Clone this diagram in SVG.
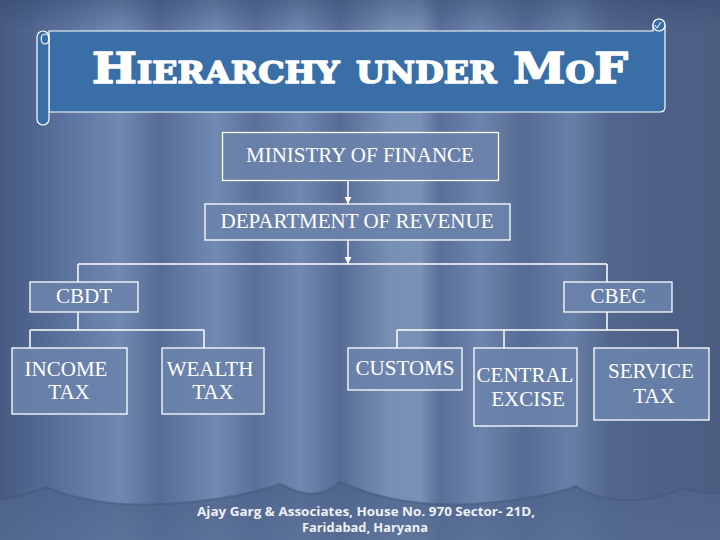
<svg xmlns="http://www.w3.org/2000/svg" width="720" height="540" viewBox="0 0 720 540">
  <defs>
    <linearGradient id="curtain" x1="0" y1="0" x2="720" y2="0" gradientUnits="userSpaceOnUse">
      <stop offset="0" stop-color="#475b82"/>
      <stop offset="0.042" stop-color="#4f658e"/>
      <stop offset="0.097" stop-color="#5d74a0"/>
      <stop offset="0.167" stop-color="#7189b1"/>
      <stop offset="0.222" stop-color="#566c96"/>
      <stop offset="0.299" stop-color="#728ab2"/>
      <stop offset="0.354" stop-color="#5a709a"/>
      <stop offset="0.417" stop-color="#7088b0"/>
      <stop offset="0.472" stop-color="#576c95"/>
      <stop offset="0.542" stop-color="#7890b5"/>
      <stop offset="0.583" stop-color="#7a91b6"/>
      <stop offset="0.611" stop-color="#5a6f98"/>
      <stop offset="0.667" stop-color="#6c84ab"/>
      <stop offset="0.729" stop-color="#566b93"/>
      <stop offset="0.792" stop-color="#6880a7"/>
      <stop offset="0.847" stop-color="#52668d"/>
      <stop offset="0.917" stop-color="#4d6086"/>
      <stop offset="1" stop-color="#4c5e82"/>
    </linearGradient>
    <linearGradient id="topshade" x1="0" y1="0" x2="0" y2="1">
      <stop offset="0" stop-color="#32466c" stop-opacity="0.45"/>
      <stop offset="1" stop-color="#32466c" stop-opacity="0"/>
    </linearGradient>
    <linearGradient id="hem" x1="0" y1="0" x2="0" y2="1">
      <stop offset="0" stop-color="#4e638a" stop-opacity="0.85"/>
      <stop offset="1" stop-color="#566b92" stop-opacity="0.75"/>
    </linearGradient>
    <marker id="arrow" markerWidth="7" markerHeight="7" refX="7" refY="3.5" orient="auto" markerUnits="userSpaceOnUse">
      <path d="M0,0 L7,3.5 L0,7 Z" fill="#ffffff"/>
    </marker>
    <style>
      .box { fill: #6b83ab; fill-opacity: 0.88; stroke: #ffffff; stroke-width: 1.3; }
      .lbl { font-family: "Liberation Serif", "Times New Roman", serif; font-size: 21px; fill: #ffffff; text-anchor: middle; }
      .conn { stroke: #ffffff; stroke-width: 1.5; fill: none; }
      .scroll { fill: #3a6ea7; stroke: #ffffff; stroke-width: 1.2; }
      .foot { font-family: "Open Sans", "DejaVu Sans", sans-serif; font-weight: 700; font-size: 11.5px; fill: #eef1f7; text-anchor: middle; }
    </style>
  </defs>

  <!-- background curtain -->
  <rect x="0" y="0" width="720" height="540" fill="url(#curtain)"/>
  <rect x="0" y="0" width="720" height="30" fill="url(#topshade)"/>
  <path d="M0,500 Q25,496 46,487 Q100,510 180,503 Q240,498 280,484 Q300,494 312,494 Q330,492 340,482 Q400,508 470,504 Q540,500 576,486 Q600,502 640,500 Q665,497 684,488 Q700,494 720,493 V540 H0 Z" fill="url(#hem)"/>
  <path d="M0,500 Q25,496 46,487 Q100,510 180,503 Q240,498 280,484 Q300,494 312,494 Q330,492 340,482 Q400,508 470,504 Q540,500 576,486 Q600,502 640,500 Q665,497 684,488 Q700,494 720,493" fill="none" stroke="#43567b" stroke-width="2" stroke-opacity="0.5"/>

  <!-- title banner -->
  <g id="title">
    <path class="scroll" d="M49,31 H653 V25 A6,6 0 0 1 665,25 V107 Q665,112 660,112 H49 Z"/>
    <circle cx="659" cy="25" r="6" class="scroll"/>
    <path d="M655,25 L657,28 L661,22" fill="none" stroke="#ffffff" stroke-width="1"/>
    <rect x="37" y="31" width="12" height="94" rx="6" ry="6" class="scroll"/>
    <ellipse cx="45" cy="39" rx="3.8" ry="5" class="scroll"/>
    <text x="92" y="83" textLength="536" lengthAdjust="spacingAndGlyphs" font-family="'DejaVu Serif', 'Liberation Serif', serif" font-weight="bold" font-size="43" font-variant="small-caps" fill="#ffffff" stroke="#ffffff" stroke-width="1.6" stroke-linejoin="round">Hierarchy under MoF</text>
  </g>

  <!-- connectors -->
  <g id="connectors">
    <path class="conn" d="M348,180 V204" marker-end="url(#arrow)"/>
    <path class="conn" d="M348,240 V264" marker-end="url(#arrow)"/>
    <path class="conn" d="M78,264 H607"/>
    <path class="conn" d="M78,264 V282"/>
    <path class="conn" d="M607,264 V282"/>
    <path class="conn" d="M78,312 V330"/>
    <path class="conn" d="M30,330 H204"/>
    <path class="conn" d="M30,330 V348"/>
    <path class="conn" d="M204,330 V348"/>
    <path class="conn" d="M607,312 V330"/>
    <path class="conn" d="M397,330 H678"/>
    <path class="conn" d="M397,330 V348"/>
    <path class="conn" d="M504,330 V348"/>
    <path class="conn" d="M678,330 V348"/>
  </g>

  <!-- nodes -->
  <g id="ministry">
    <rect class="box" x="222.5" y="132.5" width="276" height="48"/>
    <text class="lbl" x="360" y="162">MINISTRY OF  FINANCE</text>
  </g>
  <g id="revenue">
    <rect class="box" x="205" y="204" width="305" height="36"/>
    <text class="lbl" x="357" y="228">DEPARTMENT OF REVENUE</text>
  </g>
  <g id="cbdt">
    <rect class="box" x="30" y="282" width="108" height="30"/>
    <text class="lbl" x="84" y="303">CBDT</text>
  </g>
  <g id="cbec">
    <rect class="box" x="564" y="282" width="108" height="30"/>
    <text class="lbl" x="618" y="303">CBEC</text>
  </g>
  <g id="income-tax">
    <rect class="box" x="12" y="348" width="115" height="66"/>
    <text class="lbl" x="66" y="376">INCOME</text>
    <text class="lbl" x="69" y="399">TAX</text>
  </g>
  <g id="wealth-tax">
    <rect class="box" x="162" y="348" width="102" height="66"/>
    <text class="lbl" x="210" y="376">WEALTH</text>
    <text class="lbl" x="213" y="399">TAX</text>
  </g>
  <g id="customs">
    <rect class="box" x="348" y="348" width="114" height="42"/>
    <text class="lbl" x="405" y="375">CUSTOMS</text>
  </g>
  <g id="central-excise">
    <rect class="box" x="474" y="348" width="103" height="78"/>
    <text class="lbl" x="525" y="382">CENTRAL</text>
    <text class="lbl" x="528" y="406">EXCISE</text>
  </g>
  <g id="service-tax">
    <rect class="box" x="594" y="348" width="115" height="72"/>
    <text class="lbl" x="651" y="378">SERVICE</text>
    <text class="lbl" x="654" y="403">TAX</text>
  </g>

  <!-- footer -->
  <text class="foot" x="366" y="516" textLength="338" lengthAdjust="spacingAndGlyphs">Ajay Garg &amp; Associates, House No. 970 Sector- 21D,</text>
  <text class="foot" x="365" y="532" textLength="126" lengthAdjust="spacingAndGlyphs">Faridabad, Haryana</text>
</svg>
